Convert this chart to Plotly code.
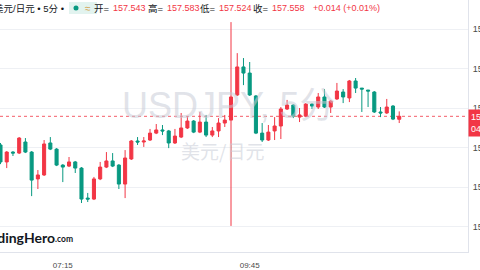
import plotly.graph_objects as go
import pandas as pd

# 5-minute candles, 06:25 .. 11:45
times = pd.date_range("2024-05-20 06:25", periods=65, freq="5min")

opens = [157.413, 157.327, 157.377, 157.372, 157.428, 157.377, 157.241, 157.261, 157.423, 157.392,
         157.311, 157.306, 157.327, 157.296, 157.144, 157.139, 157.241, 157.301, 157.332, 157.311,
         157.215, 157.342, 157.433, 157.428, 157.438, 157.473, 157.489, 157.484, 157.423, 157.453,
         157.499, 157.534, 157.478, 157.529, 157.463, 157.484, 157.524, 157.539, 157.666, 157.808,
         157.777, 157.661, 157.473, 157.438, 157.484, 157.509, 157.595, 157.615, 157.554, 157.559,
         157.620, 157.605, 157.656, 157.605, 157.646, 157.681, 157.651, 157.737, 157.701, 157.691,
         157.681, 157.580, 157.575, 157.610, 157.543]
highs = [157.423, 157.382, 157.382, 157.453, 157.448, 157.382, 157.286, 157.438, 157.453, 157.397,
         157.316, 157.352, 157.332, 157.301, 157.170, 157.251, 157.327, 157.377, 157.372, 157.316,
         157.387, 157.438, 157.453, 157.453, 157.494, 157.519, 157.514, 157.489, 157.494, 157.575,
         157.559, 157.539, 157.580, 157.565, 157.504, 157.549, 157.565, 158.035, 157.878, 157.853,
         157.833, 157.666, 157.524, 157.514, 157.554, 157.605, 157.641, 157.620, 157.600, 157.625,
         157.625, 157.676, 157.696, 157.641, 157.727, 157.696, 157.742, 157.752, 157.701, 157.691,
         157.686, 157.605, 157.646, 157.615, 157.583]
lows = [157.316, 157.296, 157.357, 157.367, 157.372, 157.154, 157.190, 157.256, 157.387, 157.306,
        157.225, 157.301, 157.271, 157.119, 157.124, 157.134, 157.235, 157.296, 157.301, 157.190,
        157.144, 157.337, 157.413, 157.403, 157.433, 157.468, 157.463, 157.397, 157.418, 157.448,
        157.494, 157.473, 157.473, 157.453, 157.453, 157.453, 157.504, 157.003, 157.661, 157.716,
        157.661, 157.468, 157.428, 157.433, 157.438, 157.443, 157.590, 157.549, 157.529, 157.554,
        157.595, 157.595, 157.600, 157.575, 157.641, 157.625, 157.630, 157.676, 157.580, 157.605,
        157.575, 157.554, 157.570, 157.539, 157.524]
closes = [157.327, 157.377, 157.372, 157.448, 157.377, 157.235, 157.261, 157.418, 157.392, 157.311,
          157.301, 157.327, 157.296, 157.139, 157.139, 157.241, 157.301, 157.332, 157.306, 157.215,
          157.347, 157.433, 157.428, 157.433, 157.473, 157.489, 157.484, 157.423, 157.458, 157.499,
          157.534, 157.478, 157.529, 157.463, 157.484, 157.524, 157.539, 157.656, 157.808, 157.777,
          157.666, 157.473, 157.438, 157.478, 157.509, 157.595, 157.615, 157.559, 157.565, 157.620,
          157.610, 157.656, 157.605, 157.635, 157.686, 157.656, 157.737, 157.701, 157.696, 157.686,
          157.580, 157.575, 157.605, 157.544, 157.558]

price_ticks = [157.0, 157.2, 157.4, 157.6, 157.8, 158.0]
time_ticks = ["2024-05-20 07:15", "2024-05-20 09:45"]
time_labels = ["07:15", "09:45"]
last_price = 157.558

UP = "#F23645"
DOWN = "#089981"

fig = go.Figure()
fig.add_trace(go.Candlestick(
    x=times, open=opens, high=highs, low=lows, close=closes,
    increasing=dict(line=dict(color=UP, width=1), fillcolor=UP),
    decreasing=dict(line=dict(color=DOWN, width=1), fillcolor=DOWN),
    whiskerwidth=0, showlegend=False, hoverinfo="skip",
))

fig.update_layout(
    width=480, height=270,
    margin=dict(l=0, r=12, t=0, b=18, autoexpand=False),
    paper_bgcolor="white", plot_bgcolor="white",
    font=dict(family="Liberation Sans, Noto Sans CJK SC, sans-serif", color="#131722"),
    xaxis=dict(
        range=["2024-05-20 06:24:36", "2024-05-20 12:40:12"],
        rangeslider=dict(visible=False), automargin=False,
        tickvals=time_ticks, ticktext=time_labels,
        tickfont=dict(size=8, color="#4a4a4a"),
        ticks="outside", ticklen=5, tickcolor="rgba(0,0,0,0)",
        showgrid=False, zeroline=False,
        showline=True, linecolor="#e0e3eb", linewidth=1,
    ),
    yaxis=dict(
        side="right", automargin=False,
        range=[156.871, 158.147],
        tickvals=price_ticks, tickformat=".3f",
        tickfont=dict(size=9, color="#4a4a4a"),
        ticks="outside", ticklen=2, tickcolor="rgba(0,0,0,0)",
        showgrid=True, gridcolor="#eef0f4", gridwidth=1,
        zeroline=False, showline=True, linecolor="#e0e3eb", linewidth=1,
    ),
)

# last price dotted line
fig.add_shape(type="line", xref="paper", x0=0, x1=1, yref="y", y0=last_price, y1=last_price,
              line=dict(color=UP, width=1, dash="dot"), opacity=0.8, layer="below")

def px_x(px):
    return px / 468

def px_y(py):
    return 1 - py / 252

# watermark
fig.add_annotation(xref="paper", yref="paper", x=px_x(228), y=px_y(105),
                   text="USDJPY, 5分", showarrow=False,
                   font=dict(size=36, color="rgba(200,204,214,0.55)", family="Liberation Sans, Noto Sans CJK SC"))
fig.add_annotation(xref="paper", yref="paper", x=px_x(222), y=px_y(150),
                   text="美元/日元", showarrow=False,
                   font=dict(size=19, color="rgba(200,204,214,0.55)", family="Noto Sans CJK SC"))

# header
fig.add_annotation(xref="paper", yref="paper", x=px_x(-8), y=px_y(8), xanchor="left", yanchor="middle",
                   text="美元/日元 • 5分 •", showarrow=False, font=dict(size=9.5, color="#131722"))
fig.add_shape(type="rect", xref="paper", yref="paper", x0=px_x(69), x1=px_x(97), y0=px_y(2), y1=px_y(14),
              fillcolor="#e2f3ef", line=dict(width=0))
fig.add_shape(type="circle", xref="paper", yref="paper", x0=px_x(73.5), x1=px_x(78.5), y0=px_y(5.5), y1=px_y(10.5),
              fillcolor=DOWN, line=dict(width=0))
fig.add_annotation(xref="paper", yref="paper", x=px_x(88), y=px_y(8), xanchor="center", yanchor="middle",
                   text="≈", showarrow=False, font=dict(size=10, color="#d2a04c"))

hdr = [("开=", "157.543", 111), ("高=", "157.583", 165), ("低=", "157.524", 217),
       ("收=", "157.558", 270)]
for lab, val, xv in hdr:
    fig.add_annotation(xref="paper", yref="paper", x=px_x(xv - 0.5), y=px_y(8), xanchor="right", yanchor="middle",
                       text=lab, showarrow=False, font=dict(size=9.5, color="#131722"), borderpad=0)
    fig.add_annotation(xref="paper", yref="paper", x=px_x(xv + 0.5), y=px_y(8), xanchor="left", yanchor="middle",
                       text=val, showarrow=False, font=dict(size=9, color=UP), borderpad=0)
fig.add_annotation(xref="paper", yref="paper", x=px_x(312), y=px_y(8), xanchor="left", yanchor="middle",
                   text="+0.014 (+0.01%)", showarrow=False, font=dict(size=9, color=UP), borderpad=0)

# logo
fig.add_annotation(xref="paper", yref="paper", x=px_x(56), y=px_y(237), xanchor="right", yanchor="middle",
                   text="<b>TradingHero</b>", showarrow=False, borderpad=0,
                   font=dict(size=14, color="#131722", family="Lato, Open Sans"))
fig.add_annotation(xref="paper", yref="paper", x=px_x(54), y=px_y(239), xanchor="left", yanchor="middle",
                   text="<b>.com</b>", showarrow=False, borderpad=0,
                   font=dict(size=8.5, color="#131722", family="Lato, Open Sans"))

# last price label on the right axis
fig.add_annotation(xref="paper", yref="paper", x=px_x(468), y=px_y(123), xanchor="left", yanchor="middle",
                   text="157.558<br>04:12", showarrow=False, align="left",
                   bgcolor=UP, borderpad=2, font=dict(size=9, color="white"))

fig.write_html("out.html")
